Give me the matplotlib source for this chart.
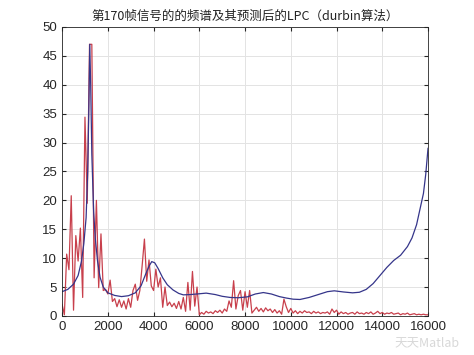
import numpy as np
import matplotlib
matplotlib.use('Agg')
import matplotlib.pyplot as plt

plt.rcParams['font.family'] = ['Liberation Sans', 'Noto Sans CJK SC', 'DejaVu Sans']

# spectrum of frame 170, sampled every 100 Hz
spec_freq = np.arange(0, 16001, 100)
spec_val = [
    2.0, 0.2, 10.7, 8.0, 20.8, 1.0, 13.9, 9.5, 15.2, 3.2,
    34.4, 19.5, 47.0, 47.0, 6.6, 20.0, 4.9, 14.2, 4.4, 4.6,
    3.8, 6.2, 2.5, 3.0, 1.6, 2.8, 1.5, 2.6, 1.2, 3.0,
    1.5, 4.4, 5.5, 2.7, 4.4, 8.7, 13.3, 6.0, 9.7, 5.2,
    4.4, 8.1, 5.0, 6.6, 1.5, 5.0, 1.8, 2.4, 1.6, 2.2,
    1.3, 2.5, 1.2, 3.2, 0.8, 5.8, 1.0, 7.7, 1.7, 5.0,
    0.2, 0.6, 0.3, 0.8, 0.5, 0.7, 0.4, 0.9, 0.6, 1.0,
    0.5, 1.2, 0.8, 2.6, 1.5, 6.1, 1.2, 3.5, 4.4, 1.0,
    4.2, 1.5, 4.4, 0.5, 1.0, 1.5, 0.8, 1.3, 0.7, 1.4,
    0.9, 1.2, 0.6, 1.1, 0.5, 0.9, 0.3, 2.9, 1.6, 0.6,
    1.3, 0.5, 0.9, 0.4, 0.8, 0.5, 0.9, 0.6, 0.7, 0.4,
    0.8, 0.5, 0.7, 0.4, 0.6, 0.5, 0.7, 0.3, 1.2, 0.6,
    1.0, 0.3, 0.7, 0.4, 0.6, 0.3, 0.5, 0.6, 0.3, 0.7,
    0.4, 0.5, 0.3, 0.6, 0.4, 0.7, 0.3, 0.5, 0.8, 0.4,
    0.6, 0.3, 0.5, 0.4, 0.6, 0.3, 0.4, 0.5, 0.2, 0.4,
    0.3, 0.5, 0.2, 0.3, 0.4, 0.2, 0.3, 0.2, 0.3, 0.2,
    0.2,
]
assert len(spec_val) == len(spec_freq)

# LPC envelope
lpc_freq = [0, 250, 500, 700, 850, 950, 1050, 1120, 1170, 1210,
            1250, 1300, 1380, 1450, 1550, 1660, 1800, 2000, 2300, 2600,
            2900, 3200, 3450, 3650, 3800, 3920, 4050, 4200, 4400, 4600,
            4850, 5100, 5300, 5600, 5900, 6300, 6700, 7000, 7350, 7700,
            8100, 8450, 8800, 9150, 9500, 9800, 10100, 10400, 10800, 11200,
            11600, 11900, 12300, 12700, 13000, 13300, 13600, 13900, 14200, 14500,
            14800, 15100, 15300, 15500, 15650, 15800, 15900, 16000]
lpc_val = [4.2, 4.6, 5.5, 7.0, 9.5, 12.5, 17.0, 25.0, 36.0, 47.0,
           40.0, 28.0, 18.0, 13.5, 9.5, 6.7, 5.0, 4.0, 3.55, 3.35,
           3.5, 4.0, 5.2, 7.2, 8.6, 9.4, 9.2, 8.2, 6.6, 5.4,
           4.5, 3.9, 3.65, 3.7, 3.8, 3.95, 3.7, 3.4, 3.2, 3.15,
           3.3, 3.8, 4.05, 3.8, 3.35, 3.1, 2.9, 2.85, 3.2, 3.7,
           4.2, 4.35, 4.15, 4.0, 4.1, 4.6, 5.6, 7.0, 8.4, 9.6,
           10.5, 12.0, 13.5, 15.8, 18.5, 21.2, 24.5, 29.0]

fig = plt.figure(figsize=(4.74, 3.55), dpi=100)
ax = fig.add_axes([0.131, 0.110, 0.772, 0.814])

ax.plot(spec_freq, spec_val, color='#c8404c', linewidth=0.9)
ax.plot(lpc_freq, lpc_val, color='#35358a', linewidth=0.9)

ax.set_xlim(0, 16000)
ax.set_ylim(0, 50)
ax.set_xticks(np.arange(0, 16001, 2000))
ax.set_yticks(np.arange(0, 51, 5))
ax.grid(True, color='#e3e3e3', linewidth=0.7)
ax.set_axisbelow(True)
ax.tick_params(direction='in', length=3, labelsize=9.5, colors='#262626',
               top=True, right=True)
for s in ax.spines.values():
    s.set_color('#262626')
    s.set_linewidth(0.6)

ax.set_title('第170帧信号的的频谱及其预测后的LPC（durbin算法）',
             family=['Noto Sans CJK SC', 'DejaVu Sans'], fontsize=9,
             color='#222222', pad=5)

# faint watermark, kept just below the tick labels
fig.text(0.97, 0.035, '天天Matlab', family=['Noto Sans CJK SC', 'DejaVu Sans'],
         fontsize=9, color='#d8d8d8', ha='right', va='center')

fig.savefig('out.png', dpi=100)
